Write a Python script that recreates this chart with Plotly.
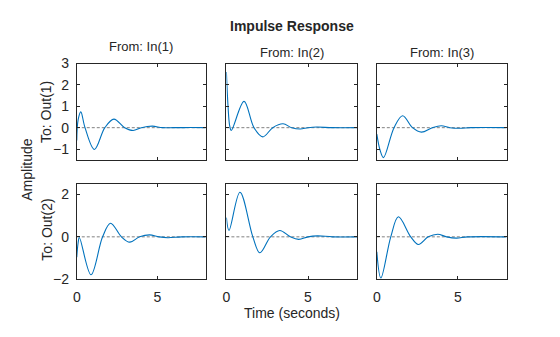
import plotly.graph_objects as go

# ---- data ----
t_11 = [0, 0.08, 0.25, 0.51, 1.09, 1.74, 2.30, 2.97, 3.49, 4.00, 4.68, 5.30, 6.0, 7.0, 8.0]
y_11 = [-0.6, 0.35, 0.74, 0.0, -1.02, 0.0, 0.40, 0.0, -0.13, 0.0, 0.07, 0.0, 0.0, 0.005, 0.0]

t_12 = [0, 0.1, 0.2, 0.30, 1.08, 1.69, 2.23, 2.84, 3.47, 4.00, 4.53, 5.00, 5.54, 6.5, 8.0]
y_12 = [2.6, 1.0, 0.1, -0.13, 1.23, 0.0, -0.43, 0.0, 0.18, 0.0, -0.06, 0.0, 0.03, 0.0, 0.0]

t_13 = [0, 0.2, 0.41, 1.06, 1.59, 2.20, 2.75, 3.42, 3.97, 4.50, 5.09, 5.80, 8.0]
y_13 = [-0.3, -1.05, -1.40, 0.0, 0.56, 0.0, -0.21, 0.0, 0.09, 0.0, -0.03, 0.0, 0.0]

t_21 = [0, 0.08, 0.16, 0.88, 1.60, 2.09, 2.77, 3.28, 3.90, 4.51, 5.10, 5.64, 6.5, 8.0]
y_21 = [-0.95, -0.3, -0.03, -1.78, 0.0, 0.64, 0.0, -0.25, 0.0, 0.09, 0.0, -0.04, 0.0, 0.0]

t_22 = [0, 0.16, 0.83, 1.62, 2.05, 2.70, 3.27, 3.92, 4.43, 5.00, 5.58, 6.5, 8.0]
y_22 = [0.9, 0.30, 2.09, 0.0, -0.75, 0.0, 0.30, 0.0, -0.12, 0.0, 0.045, 0.0, 0.0]

t_23 = [0, 0.25, 0.86, 1.33, 2.09, 2.56, 3.17, 3.75, 4.30, 4.90, 5.60, 8.0]
y_23 = [-0.7, -1.93, 0.0, 0.94, 0.0, -0.36, 0.0, 0.12, 0.0, -0.06, 0.0, 0.0]

x_ticks = [0, 5]
y_ticks_row1 = [-1, 0, 1, 2, 3]
y_ticks_row2 = [-2, 0, 2]
x_range = [0, 8]
y_range_row1 = [-1.5, 3]
y_range_row2 = [-2, 2.5]
col_titles = ["From: In(1)", "From: In(2)", "From: In(3)"]
row_titles = ["To: Out(1)", "To: Out(2)"]

series = [[(t_11, y_11), (t_12, y_12), (t_13, y_13)],
          [(t_21, y_21), (t_22, y_22), (t_23, y_23)]]

W, H = 560, 337
FONT = "Liberation Sans, Arial, Helvetica, sans-serif"
TXT = "#262626"
BLUE = "#0072BD"

col_px = [(73.3, 203.3), (224.0, 355.5), (375.5, 506.3)]
row_px = [(58.3, 159.3), (184.3, 285.0)]

fig = go.Figure()
layout = dict(width=W, height=H, margin=dict(l=0, r=0, t=0, b=0),
              paper_bgcolor="white", plot_bgcolor="white", showlegend=False,
              font=dict(family=FONT, size=14, color=TXT))
shapes = []
n = 0
for r in range(2):
    for c in range(3):
        n += 1
        xa = "xaxis" if n == 1 else f"xaxis{n}"
        ya = "yaxis" if n == 1 else f"yaxis{n}"
        xr = "x" if n == 1 else f"x{n}"
        yr = "y" if n == 1 else f"y{n}"
        t, y = series[r][c]
        fig.add_trace(go.Scatter(x=t, y=y, mode="lines", xaxis=xr, yaxis=yr,
                                 line=dict(color=BLUE, width=1.1, shape="spline", smoothing=1.0),
                                 hoverinfo="skip"))
        x0, x1 = col_px[c]
        y0, y1 = row_px[r]
        layout[xa] = dict(domain=[x0 / W, x1 / W], anchor=yr, range=x_range,
                          tickvals=x_ticks, ticks="inside", ticklen=3, tickcolor=TXT,
                          showticklabels=(r == 1), showgrid=False, zeroline=False,
                          showline=True, linecolor=TXT, linewidth=1, mirror="allticks",
                          ticklabelstandoff=5,
                          tickfont=dict(size=14, color=TXT, family=FONT))
        layout[ya] = dict(domain=[1 - y1 / H, 1 - y0 / H], anchor=xr,
                          range=y_range_row1 if r == 0 else y_range_row2,
                          tickvals=y_ticks_row1 if r == 0 else y_ticks_row2,
                          ticks="inside", ticklen=3, tickcolor=TXT,
                          showticklabels=(c == 0), showgrid=False, zeroline=False,
                          showline=True, linecolor=TXT, linewidth=1, mirror="allticks",
                          ticklabelstandoff=4,
                          tickfont=dict(size=14, color=TXT, family=FONT))
        shapes.append(dict(type="line", xref=f"{xr} domain", yref=yr, x0=0, x1=1, y0=0, y1=0,
                           line=dict(color="#808080", width=1, dash="3px,2px"), layer="below"))

ann = []
ann.append(dict(text="<b>Impulse Response</b>", x=290 / W, y=1 - 19 / H, xref="paper", yref="paper",
                showarrow=False, font=dict(size=14, color=TXT, family=FONT), xanchor="center", yanchor="middle"))
col_title_y = [40, 47, 47]
for c in range(3):
    cx = (col_px[c][0] + col_px[c][1]) / 2
    ann.append(dict(text=col_titles[c], x=cx / W, y=1 - col_title_y[c] / H, xref="paper", yref="paper",
                    showarrow=False, font=dict(size=13, color=TXT, family=FONT), xanchor="center", yanchor="middle"))
row_title_y = [109.5, 233]
for r in range(2):
    ann.append(dict(text=row_titles[r], x=43 / W, y=1 - row_title_y[r] / H, xref="paper", yref="paper", textangle=-90,
                    showarrow=False, font=dict(size=14, color=TXT, family=FONT), xanchor="center", yanchor="middle"))
ann.append(dict(text="Amplitude", x=23 / W, y=1 - 170 / H, xref="paper", yref="paper", textangle=-90,
                showarrow=False, font=dict(size=14, color=TXT, family=FONT), xanchor="center", yanchor="middle"))
ann.append(dict(text="Time (seconds)", x=290 / W, y=1 - 320 / H, xref="paper", yref="paper",
                showarrow=False, font=dict(size=14, color=TXT, family=FONT), xanchor="center", yanchor="middle"))

layout["annotations"] = ann
layout["shapes"] = shapes
fig.update_layout(**layout)
fig.write_html("out.html")
